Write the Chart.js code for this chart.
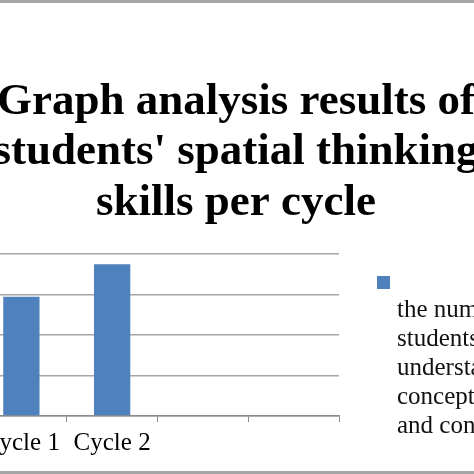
<!DOCTYPE html>
<html>
<head>
<meta charset="utf-8">
<script src="https://cdn.jsdelivr.net/npm/chart.js@4.4.1/dist/chart.umd.min.js"></script>
<style>
  html, body { margin: 0; padding: 0; background: #fff; overflow: hidden; }
  #wrap { position: absolute; left: -144px; top: 0; width: 760px; height: 474px; }
</style>
</head>
<body>
<div id="wrap"><canvas id="myChart" width="760" height="474"></canvas></div>
<script>
// chart values
const categories = ['Cycle 1', 'Cycle 2', '', ''];
const studentsUnderstanding = [59, 75, null, null];
const yTickValues = [0, 20, 40, 60, 80];
const titleLines = ['Graph analysis results of', "students' spatial thinking", 'skills per cycle'];
const legendLines = ['the number of', 'students who', 'understand', 'concepts', 'and concepts'];

const serif = '"Liberation Serif", "Times New Roman", serif';

// draws the grey frame of the chart
const framePlugin = {
    id: 'frame',
    beforeDraw(chart) {
        const ctx = chart.ctx;
        ctx.save();
        ctx.fillStyle = '#fff';
        ctx.fillRect(0, 0, chart.width, chart.height);
        ctx.strokeStyle = '#a6a6a6';
        ctx.lineWidth = 3;
        ctx.strokeRect(1.5, 1.5, chart.width - 3, chart.height - 3);
        ctx.restore();
    }
};

// Excel-like legend: marker on top, wrapped text below
const sideLegend = {
    id: 'sideLegend',
    afterDraw(chart) {
        const ctx = chart.ctx;
        const area = chart.chartArea;
        const x = area.right + 38;
        ctx.save();
        ctx.fillStyle = chart.data.datasets[0].backgroundColor;
        ctx.fillRect(x, 276, 13, 13);
        ctx.fillStyle = '#111';
        ctx.font = '25px ' + serif;
        ctx.textBaseline = 'alphabetic';
        legendLines.forEach((line, i) => {
            ctx.fillText(line, x + 20, 317 + i * 29);
        });
        ctx.restore();
    }
};

let ctx = document.getElementById('myChart').getContext('2d');
let chart = new Chart(ctx, {
    type: 'bar',
    data: {
        labels: categories,
        datasets: [{
            label: legendLines.join(' '),
            data: studentsUnderstanding,
            backgroundColor: '#4f81bd',
            borderWidth: 0,
            categoryPercentage: 1,
            barPercentage: 0.4
        }]
    },
    options: {
        responsive: false,
        animation: false,
        devicePixelRatio: 1,
        layout: { padding: { left: 0, right: 0, top: 0, bottom: 8 } },
        plugins: {
            legend: { display: false },
            tooltip: { enabled: false },
            title: {
                display: true,
                text: titleLines,
                color: '#000',
                font: { family: serif, size: 45, weight: 'bold', lineHeight: 1.12 },
                padding: { top: 77, bottom: 26 }
            }
        },
        scales: {
            x: {
                grid: { display: true, drawOnChartArea: false, drawTicks: true, tickLength: 6, color: '#8c8c8c', offset: true },
                border: { color: '#8c8c8c', width: 1.5 },
                ticks: {
                    color: '#000',
                    padding: 6,
                    font: { family: serif, size: 25 }
                },
                afterFit(scale) { scale.height = 50; }
            },
            y: {
                min: 0,
                max: 80,
                afterBuildTicks(scale) { scale.ticks = yTickValues.map(v => ({ value: v })); },
                grid: { color: '#a6a6a6', lineWidth: 1.5, drawTicks: false },
                border: { display: false },
                ticks: {
                    color: '#000',
                    padding: 8,
                    font: { family: serif, size: 20 }
                },
                afterFit(scale) { scale.width = 120; }
            },
            // empty box on the right that keeps room for the legend
            legendSpace: {
                type: 'linear',
                position: 'right',
                display: true,
                grid: { display: false },
                border: { display: false },
                ticks: { display: false },
                afterFit(scale) { scale.width = 277; }
            }
        }
    },
    plugins: [framePlugin, sideLegend]
});
</script>
</body>
</html>
